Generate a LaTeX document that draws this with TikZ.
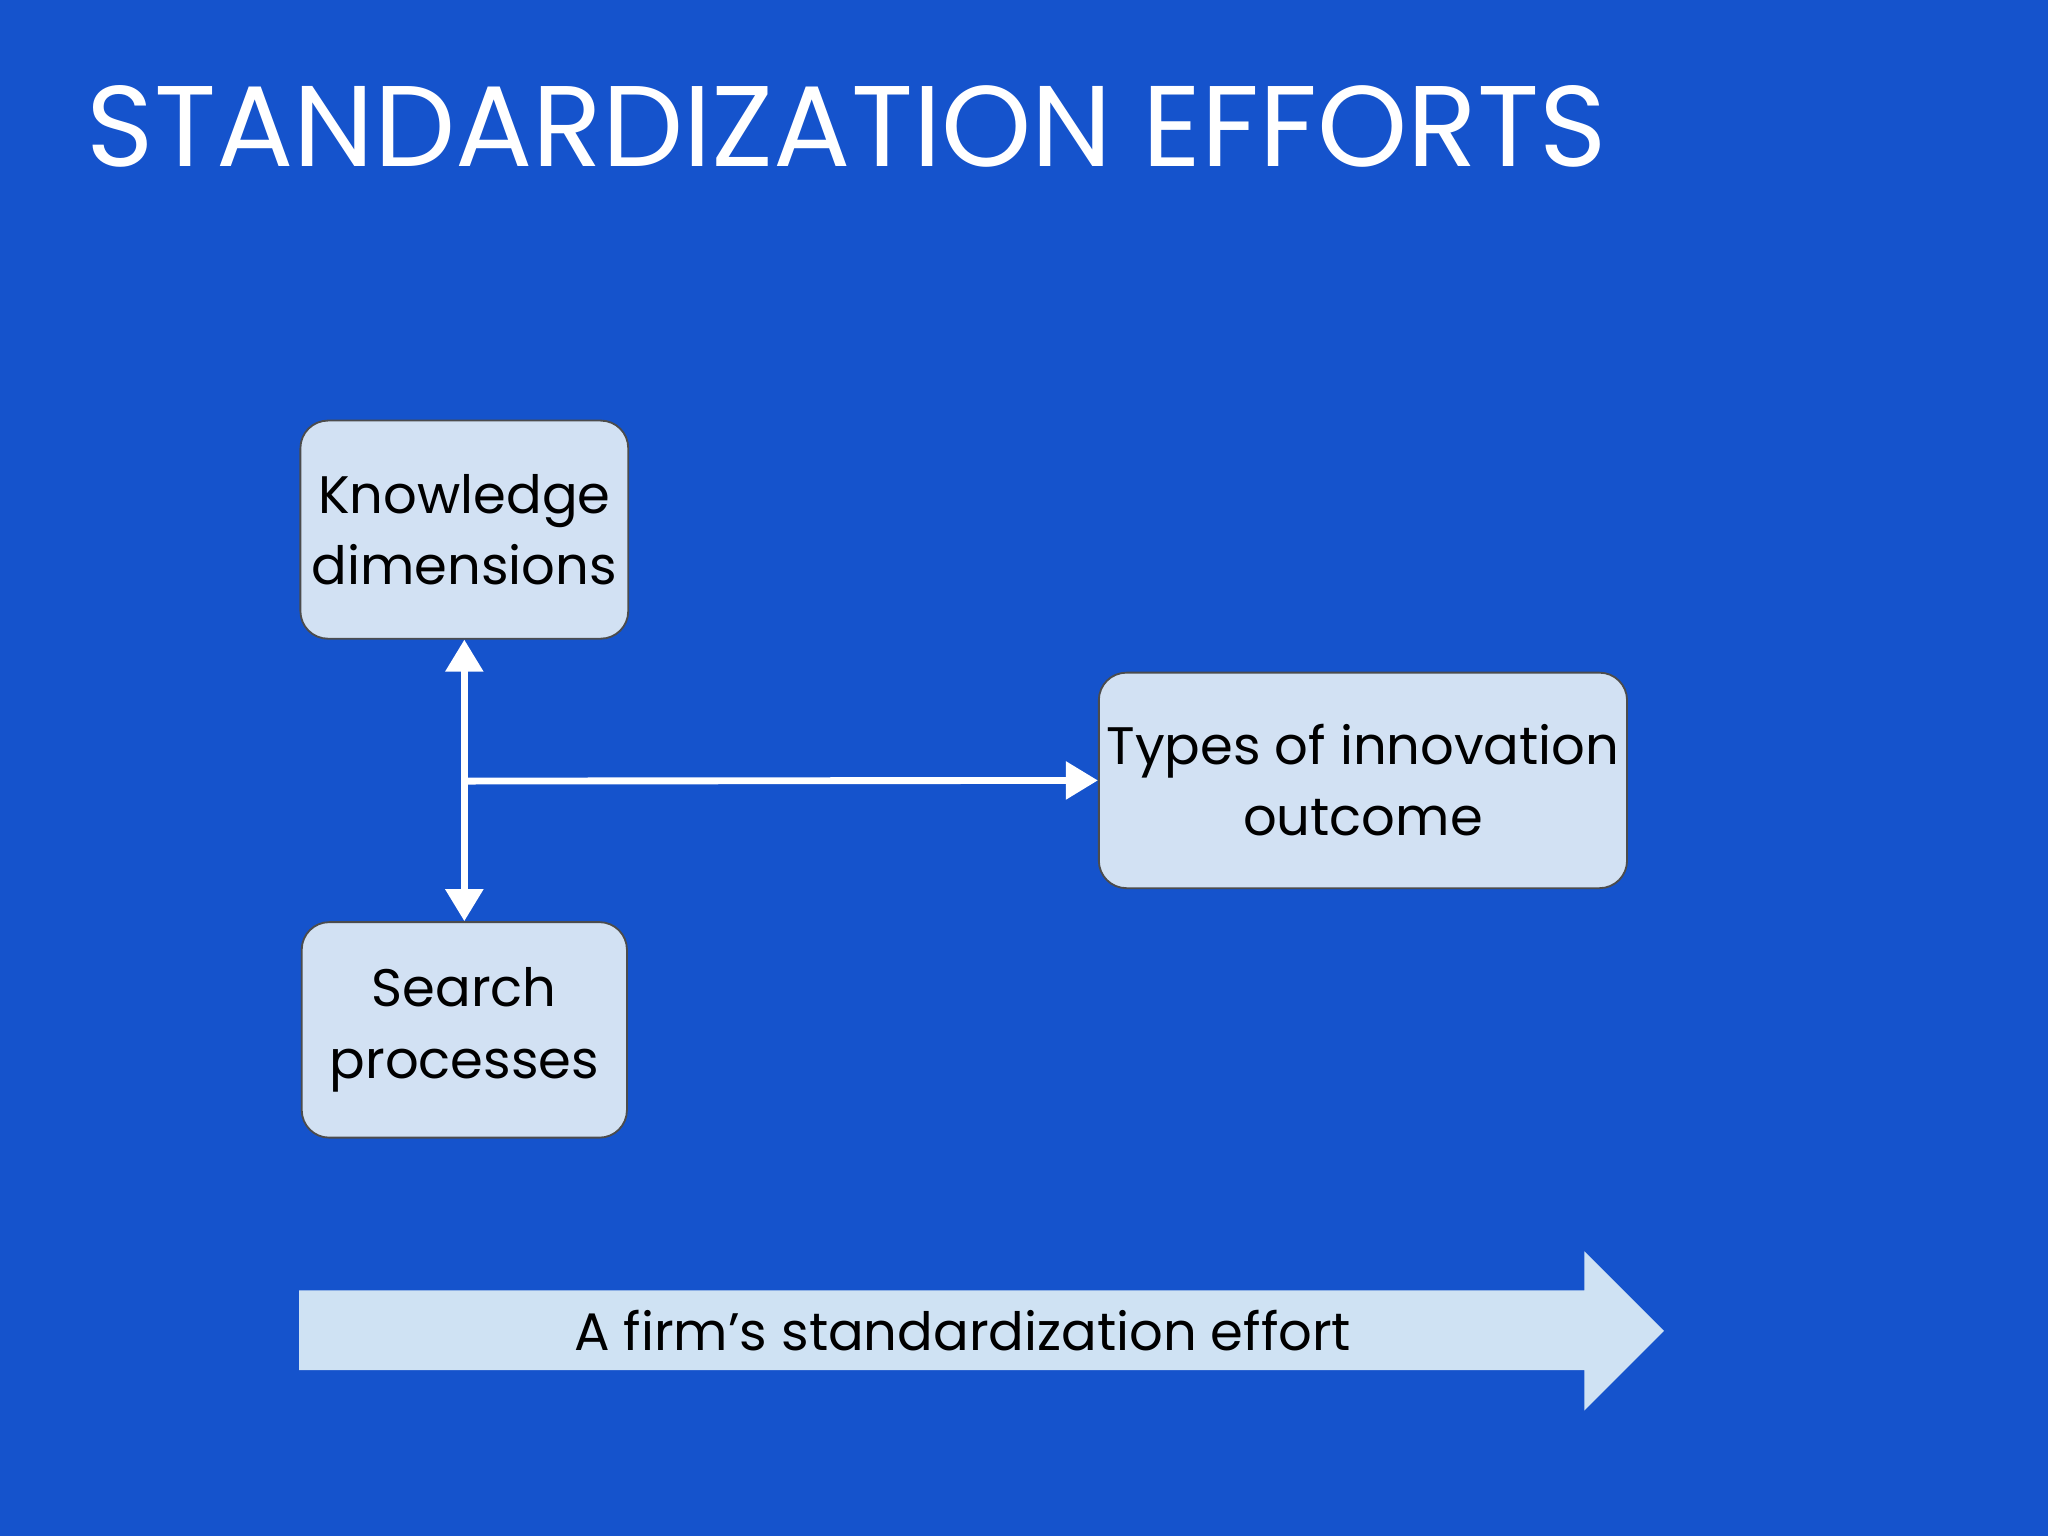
\documentclass[tikz,border=0pt]{standalone}
\usepackage{fontspec}
\setmainfont{Poppins}
\usetikzlibrary{arrows.meta}
\definecolor{bg}{HTML}{1553CC}
\definecolor{boxfill}{HTML}{D2E1F3}
\definecolor{arrfill}{HTML}{CFE2F3}
\tikzset{
  box/.style={draw=black!70, line width=0.8pt, fill=boxfill, rounded corners=12pt, align=center, font=\fontsize{23}{31}\selectfont, text=black},
  conn/.style={draw=white, line width=3pt, -{Triangle[length=14pt,width=16pt]}}
}
\begin{document}
\begin{tikzpicture}[x=0.02cm,y=-0.02cm]
\fill[bg] (0,0) rectangle (1568,1176);
\node[anchor=west, text=white, font=\fontsize{50}{56}\selectfont, inner sep=0] (title) at (66,97) {STANDARDIZATION EFFORTS};
\node[box, minimum width=251*0.02cm, minimum height=167*0.02cm] (kd) at (355.5,405.5) {Knowledge\\dimensions};
\node[box, minimum width=249*0.02cm, minimum height=165*0.02cm] (sp) at (355.5,788.5) {Search\\processes};
\node[box, minimum width=387*0.02cm, minimum height=165*0.02cm] (ty) at (1043.5,597.5) {Types of innovation\\outcome};
\draw[conn, {Triangle[length=14pt,width=16pt]}-{Triangle[length=14pt,width=16pt]}] (kd.south) -- (sp.north);
\coordinate (mid) at (355,598);
\draw[conn] (mid) -- (ty.west);
\fill[arrfill] (229,988) -- (1213,988) -- (1213,958) -- (1274,1019) -- (1213,1080) -- (1213,1049) -- (229,1049) -- cycle;
\node[font=\fontsize{23}{28}\selectfont, text=black] (lbl) at (737,1019) {A firm’s standardization effort};
\end{tikzpicture}
\end{document}
